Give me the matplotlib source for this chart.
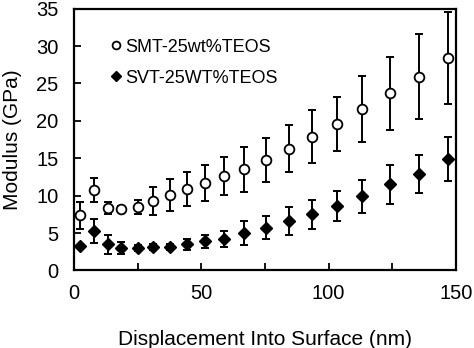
import matplotlib
matplotlib.use("Agg")
import matplotlib.pyplot as plt
from matplotlib.ticker import MultipleLocator

plt.rcParams['font.family'] = ['Liberation Sans', 'DejaVu Sans']

# Nanoindentation modulus vs depth, two coatings
depth = [2.2, 7.8, 13.5, 18.6, 25.0, 31.1, 37.7, 44.2, 51.4, 59.0,
         66.8, 75.3, 84.5, 93.3, 103.1, 113.2, 124.0, 135.4, 147.0]

smt_mod = [7.4, 10.8, 8.3, 8.2, 8.5, 9.3, 10.1, 10.9, 11.7, 12.6,
           13.5, 14.8, 16.3, 17.9, 19.6, 21.6, 23.7, 25.9, 28.4]
smt_err = [1.8, 1.6, 0.8, 0.4, 0.95, 1.9, 2.15, 2.25, 2.4, 2.55,
           2.95, 2.95, 3.15, 3.55, 3.65, 4.45, 4.9, 5.65, 6.1]

svt_mod = [3.2, 5.3, 3.5, 3.0, 3.0, 3.1, 3.1, 3.5, 3.9, 4.2,
           5.0, 5.7, 6.6, 7.5, 8.6, 9.9, 11.5, 12.9, 14.9]
svt_err = [0.0, 1.6, 1.3, 0.8, 0.4, 0.4, 0.4, 0.75, 0.85, 1.1,
           1.55, 1.55, 1.85, 1.95, 2.0, 2.25, 2.6, 2.5, 2.95]

fig = plt.figure(figsize=(4.74, 3.48), dpi=100)
ax = fig.add_axes([0.156, 0.223, 0.806, 0.752])

err_kw = dict(fmt='none', ecolor='black', elinewidth=1.4, capsize=3,
              capthick=1.4, zorder=2)
ax.errorbar(depth, smt_mod, yerr=smt_err, **err_kw)
ax.errorbar(depth, svt_mod, yerr=svt_err, **err_kw)

ax.plot(depth, smt_mod, 'o', mfc='white', mec='black', mew=1.3, ms=7,
        label='SMT-25wt%TEOS', zorder=3)
ax.plot(depth, svt_mod, 'D', mfc='black', mec='black', ms=6,
        label='SVT-25WT%TEOS', zorder=3)

ax.set_xlim(0, 150)
ax.set_ylim(0, 35)
ax.xaxis.set_major_locator(MultipleLocator(50))
ax.xaxis.set_minor_locator(MultipleLocator(25))
ax.yaxis.set_major_locator(MultipleLocator(5))
ax.tick_params(which='both', direction='in', length=5, width=1.3,
               labelsize=14.5, top=False, right=False)
ax.tick_params(axis='x', pad=10)
ax.tick_params(axis='y', pad=11)
for s in ax.spines.values():
    s.set_linewidth(1.6)

ax.set_xlabel('Displacement Into Surface (nm)', fontsize=15, labelpad=19)
ax.set_ylabel('Modulus (GPa)', fontsize=15, labelpad=10)

ax.legend(loc='upper left', frameon=False, fontsize=13, markerscale=0.8,
          handlelength=0.8, handletextpad=0.08, labelspacing=0.76,
          borderpad=0, borderaxespad=0, bbox_to_anchor=(0.092, 0.885))

fig.savefig('out.png', dpi=100)
